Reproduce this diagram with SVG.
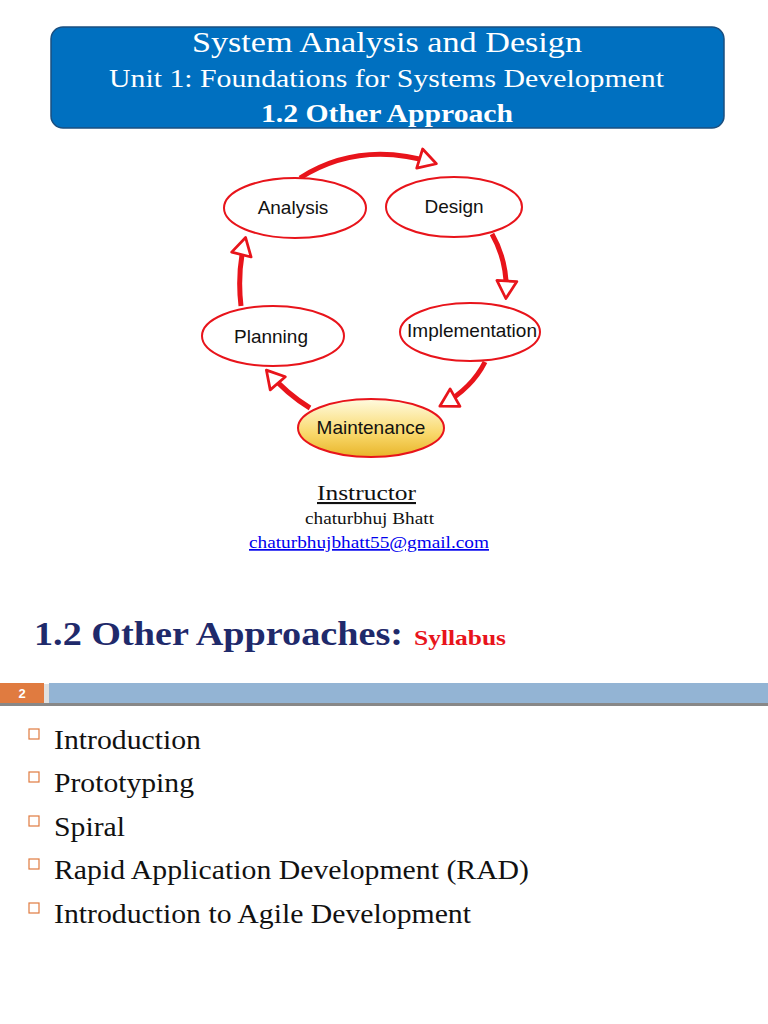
<svg xmlns="http://www.w3.org/2000/svg" width="768" height="1024" viewBox="0 0 768 1024">
<defs>
<style>
.serif{font-family:"Liberation Serif","Times New Roman",serif}
.sans{font-family:"Liberation Sans",Arial,sans-serif}
.node{fill:#fff;stroke:#e8141b;stroke-width:2}
.lbl{font-family:"Liberation Sans",Arial,sans-serif;font-size:19px;fill:#111;text-anchor:middle}
.conn{fill:none;stroke:#e8141b;stroke-width:5}
.bul{fill:#fff;stroke:#e07b40;stroke-width:1.2}
.item{font-family:"Liberation Serif","Times New Roman",serif;font-size:27px;fill:#111}
</style>
<marker id="ah" viewBox="0 0 10 10" refX="7" refY="5" markerWidth="5" markerHeight="5" orient="auto" markerUnits="strokeWidth">
<path d="M1,1 L8,5 L1,9 Z" fill="#fff" stroke="#e8141b" stroke-width="1.1" stroke-linejoin="round"/>
</marker>
<linearGradient id="mg" x1="0" y1="0" x2="0" y2="1"><stop offset="0" stop-color="#fffbe0"/><stop offset="0.6" stop-color="#f9d86a"/><stop offset="1" stop-color="#e8b52a"/></linearGradient>
</defs>
<rect width="768" height="1024" fill="#fff"/>
<g id="header">
<rect x="51" y="27" width="673" height="101" rx="12" fill="#0070c0" stroke="#1a4f80" stroke-width="1.5"/>
<text x="192" y="52" class="serif" font-size="30" fill="#fff" textLength="390" lengthAdjust="spacingAndGlyphs">System Analysis and Design</text>
<text x="109" y="87" class="serif" font-size="26" fill="#fff" textLength="555" lengthAdjust="spacingAndGlyphs">Unit 1: Foundations for Systems Development</text>
<text x="261" y="122" class="serif" font-size="26" font-weight="bold" fill="#fff" textLength="252" lengthAdjust="spacingAndGlyphs">1.2 Other Approach</text>
</g>
<g id="connectors">
<path class="conn" d="M300,178 Q360,140 434,163" marker-end="url(#ah)"/>
<path class="conn" d="M492,234 Q508,262 506,296" marker-end="url(#ah)"/>
<path class="conn" d="M485,362 Q472,388 442,405" marker-end="url(#ah)"/>
<path class="conn" d="M310,408 Q287,394 268,372" marker-end="url(#ah)"/>
<path class="conn" d="M241,306 Q237,272 245,240" marker-end="url(#ah)"/>
</g>
<g id="analysis"><ellipse class="node" cx="295" cy="208" rx="71" ry="30"/><text class="lbl" x="293" y="214">Analysis</text></g>
<g id="design"><ellipse class="node" cx="454" cy="207" rx="68" ry="30"/><text class="lbl" x="454" y="213">Design</text></g>
<g id="implementation"><ellipse class="node" cx="470" cy="332" rx="70" ry="29"/><text class="lbl" x="472" y="337" font-size="16">Implementation</text></g>
<g id="planning"><ellipse class="node" cx="273" cy="336" rx="71" ry="30"/><text class="lbl" x="271" y="343">Planning</text></g>
<g id="maintenance"><ellipse cx="371" cy="428" rx="73" ry="29" fill="url(#mg)" stroke="#e8141b" stroke-width="2"/><text class="lbl" x="371" y="434">Maintenance</text></g>
<g id="instructor">
<text x="317" y="500" class="serif" font-size="21" fill="#111" text-decoration="underline" textLength="99" lengthAdjust="spacingAndGlyphs">Instructor</text>
<text x="305" y="524" class="serif" font-size="17" fill="#111" textLength="129" lengthAdjust="spacingAndGlyphs">chaturbhuj Bhatt</text>
<text x="249" y="548" class="serif" font-size="17" fill="#0000ee" text-decoration="underline" textLength="240" lengthAdjust="spacingAndGlyphs">chaturbhujbhatt55@gmail.com</text>
</g>
<g id="title">
<text x="34" y="645" class="serif" font-size="34" font-weight="bold" fill="#1f2a6b" textLength="369" lengthAdjust="spacingAndGlyphs">1.2 Other Approaches:</text>
<text x="414" y="645" class="serif" font-size="22" font-weight="bold" fill="#e8141b" textLength="92" lengthAdjust="spacingAndGlyphs">Syllabus</text>
</g>
<g id="bar">
<rect x="0" y="684" width="768" height="22" fill="#e0e0e0"/>
<rect x="0" y="683" width="44" height="20" fill="#e07b40"/>
<text x="22" y="698" class="sans" font-size="13" font-weight="bold" fill="#fff" text-anchor="middle">2</text>
<rect x="49" y="683" width="719" height="20" fill="#93b4d4"/>
<rect x="0" y="703" width="768" height="3" fill="#888"/>
</g>
<g id="list">
<rect class="bul" x="29" y="729" width="10" height="10"/><text class="item" x="54" y="749" textLength="147" lengthAdjust="spacingAndGlyphs">Introduction</text>
<rect class="bul" x="29" y="772" width="10" height="10"/><text class="item" x="54" y="792" textLength="140" lengthAdjust="spacingAndGlyphs">Prototyping</text>
<rect class="bul" x="29" y="816" width="10" height="10"/><text class="item" x="54" y="836" textLength="71" lengthAdjust="spacingAndGlyphs">Spiral</text>
<rect class="bul" x="29" y="859" width="10" height="10"/><text class="item" x="54" y="879" textLength="475" lengthAdjust="spacingAndGlyphs">Rapid Application Development (RAD)</text>
<rect class="bul" x="29" y="903" width="10" height="10"/><text class="item" x="54" y="923" textLength="417" lengthAdjust="spacingAndGlyphs">Introduction to Agile Development</text>
</g>
</svg>
